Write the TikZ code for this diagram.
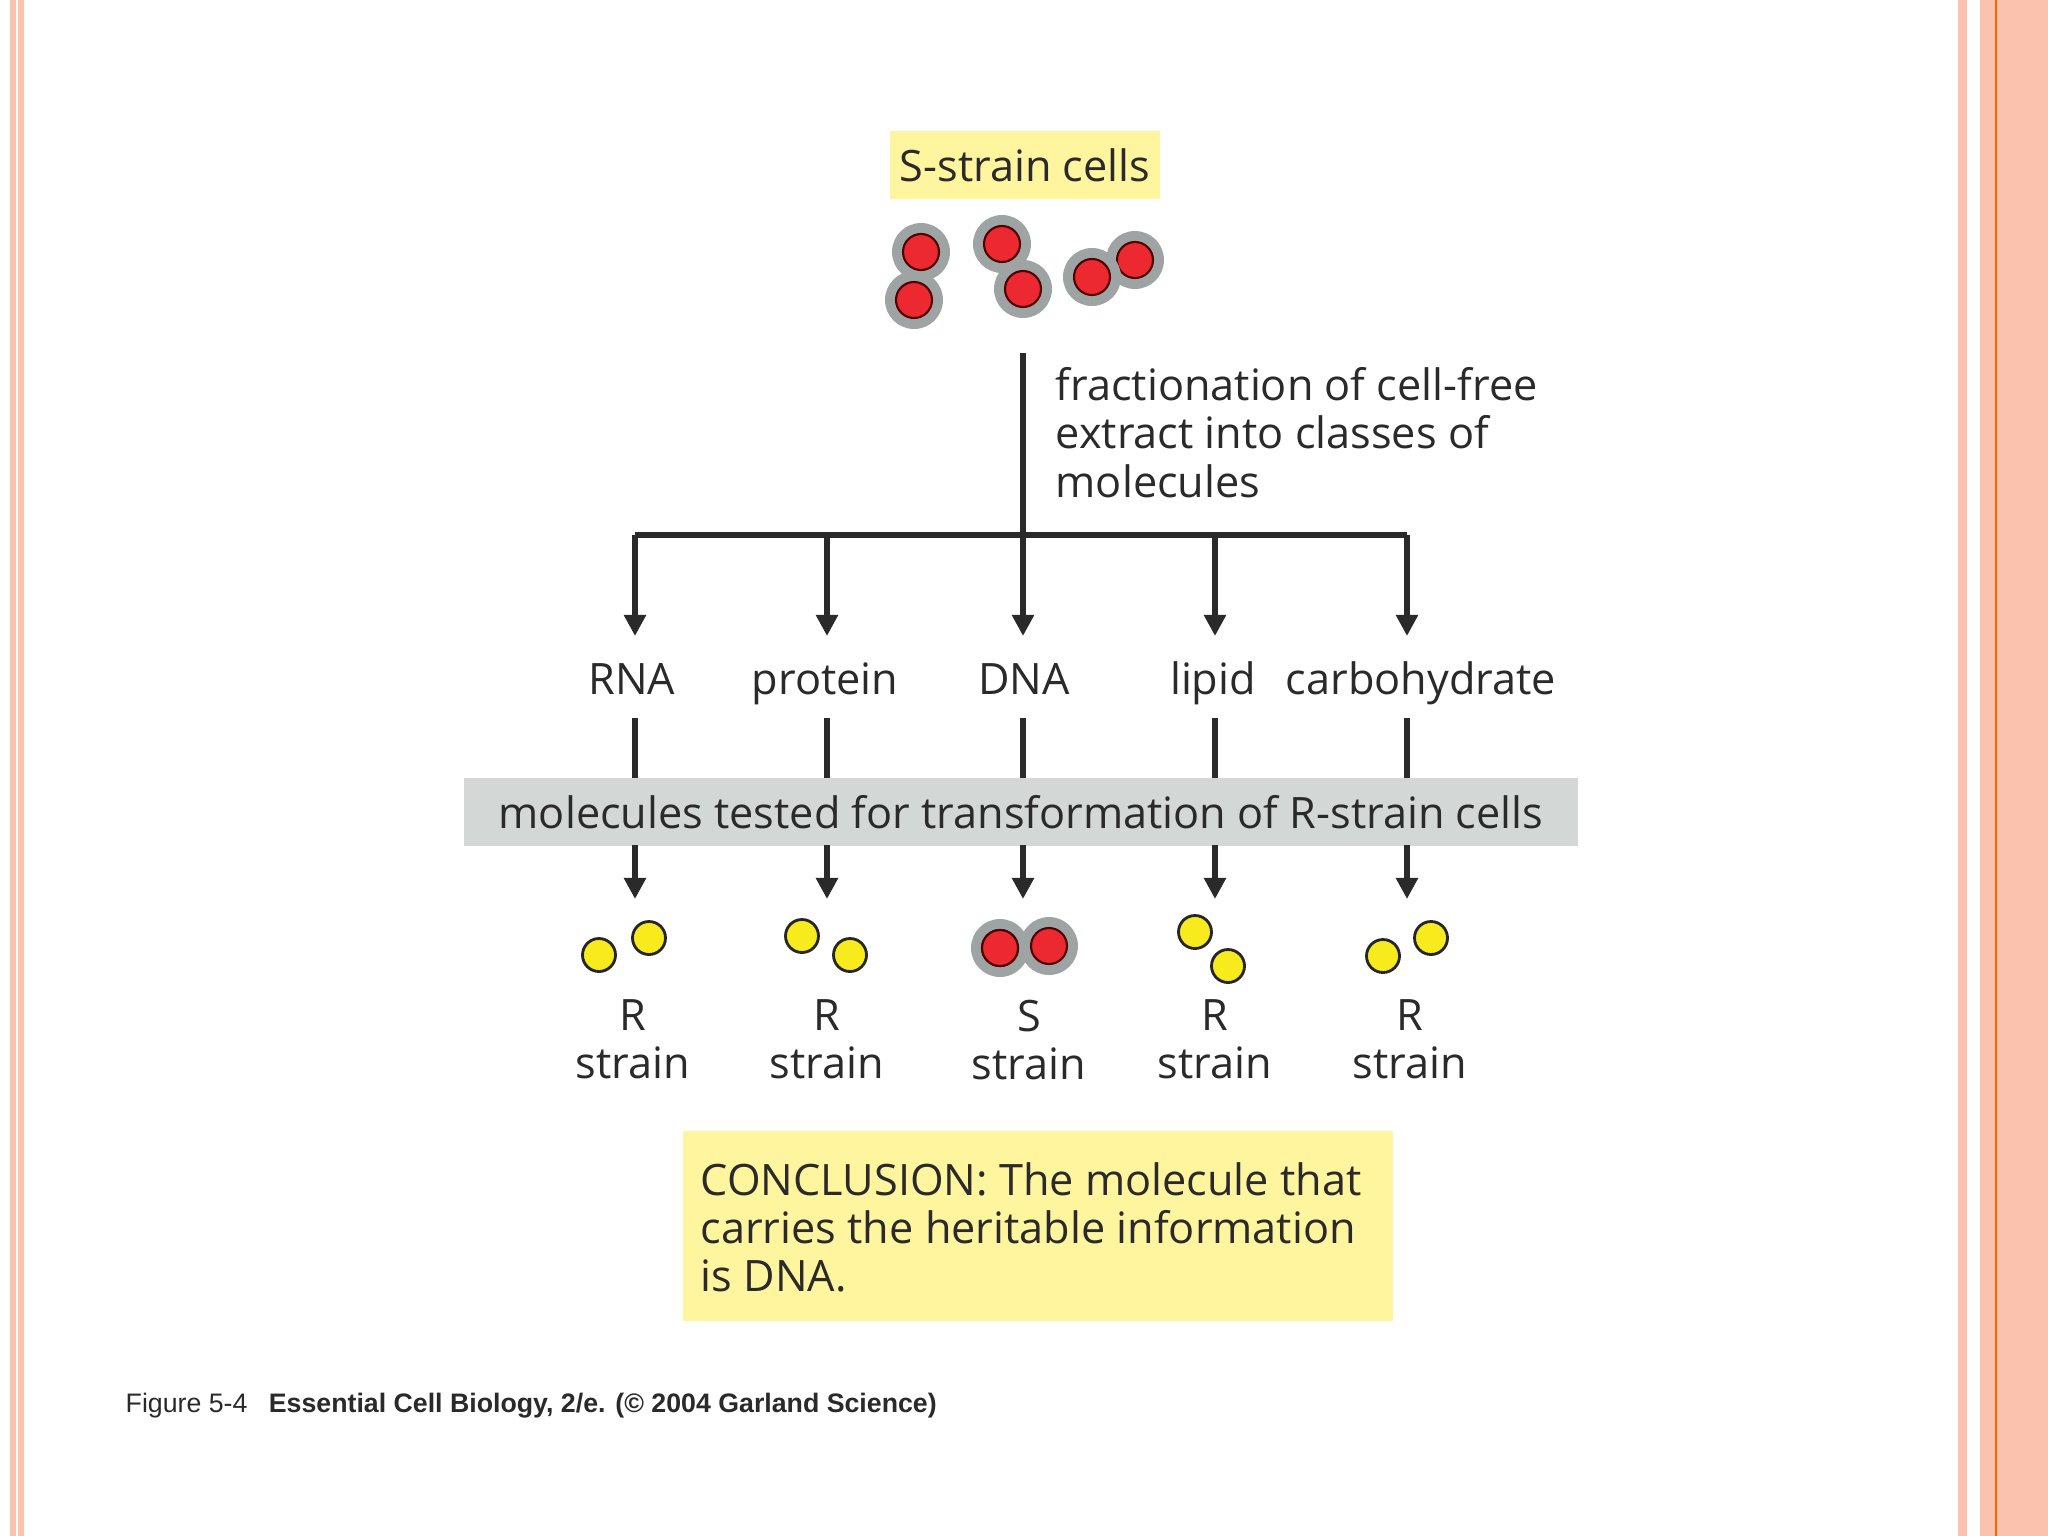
\documentclass[tikz,border=0pt]{standalone}
\usepackage{fontspec}
\setmainfont{Open Sans}
\newfontfamily\capfont{Liberation Sans}
\usetikzlibrary{arrows.meta}
\definecolor{salmon}{HTML}{FBC3AE}
\definecolor{boxyellow}{HTML}{FFF59E}
\definecolor{boxgray}{HTML}{D3D8D6}
\definecolor{cellgray}{HTML}{9EA4A3}
\definecolor{cellred}{HTML}{EC2830}
\definecolor{cellyellow}{HTML}{F7EB1E}
\definecolor{txt}{HTML}{2A2A2A}
\tikzset{
  lbl/.style={font=\fontsize{12.3}{13.7}\selectfont, text=txt, inner sep=0pt},
  conn/.style={line width=1.6pt, draw=txt},
  arr/.style={conn, -{Triangle[length=6pt,width=6pt]}},
}
\newcommand{\scell}[2]{\fill[cellgray] (#1,#2) circle (29); \filldraw[fill=cellred, draw=black!70!red, line width=0.6pt] (#1,#2) circle (18);}
\newcommand{\rcell}[2]{\filldraw[fill=cellyellow, draw=black!85, line width=0.8pt] (#1,#2) circle (16.5);}
\begin{document}
\begin{tikzpicture}[x=0.01cm,y=-0.01cm]
\useasboundingbox (0,0) rectangle (2048,1536);
\fill[white] (0,0) rectangle (2048,1536);
% borders
\fill[salmon] (10,0) rectangle (16,1536);
\fill[salmon] (18,0) rectangle (24,1536);
\fill[salmon] (1958,0) rectangle (1967,1536);
\fill[salmon] (1980,0) rectangle (2048,1536);
\draw[orange!80!red, line width=0.8pt] (1996,0) -- (1996,1536);
% top
\node[fill=boxyellow, minimum width=2.69cm, minimum height=0.68cm, lbl] (top) at (1025,165) {S-strain cells};
\scell{921}{252}\scell{914}{300}
\scell{1002}{244}\scell{1023}{289}
\scell{1135}{260}\scell{1092}{277}
\coordinate (stem) at (1023,353);
\coordinate (bar) at (1023,535);
\coordinate (barL) at (635,535);
\coordinate (barR) at (1407,535);
\draw[conn] (stem) -- (bar);
\draw[conn] (barL) -- (barR);
\node[lbl, anchor=north west, align=left] (frac) at (1055,367) {fractionation of cell-free\\extract into classes of\\molecules};
% gray box
\node[fill=boxgray, minimum width=11.13cm, minimum height=0.67cm, lbl] (test) at (1021,812) {molecules tested for transformation of R-strain cells};
\foreach \x/\lx/\name/\t in {635/632/rna/RNA, 827/825/pro/protein, 1023/1024/dna/DNA, 1215/1213/lip/lipid, 1407/1421/car/carbohydrate}{
  \coordinate (a\name) at (\x,535);
  \node[lbl] (\name) at (\lx,685) {\strut\t};
  \draw[arr] (a\name) -- (\x,636);
  \draw[conn] (\x,718) -- (\x,778);
  \coordinate (b\name) at (\x,845);
  \draw[arr] (b\name) -- (\x,899);
}
% results
\rcell{599}{955}\rcell{649}{938}
\rcell{802}{936}\rcell{850}{955}
\scell{1000}{948}\scell{1049}{946}
\filldraw[fill=cellred, draw=black!70!red, line width=0.6pt] (1000,948) circle (18);
\rcell{1195}{932}\rcell{1228}{966}
\rcell{1383}{956}\rcell{1431}{938}
\foreach \x/\s/\n in {633/R/1, 827/R/2, 1029/S/3, 1215/R/4, 1410/R/5}{
  \node[lbl, align=center, anchor=north] (res\n) at (\x,999) {\s\\strain};
}
% conclusion
\node[fill=boxyellow, minimum width=7.10cm, minimum height=1.90cm, anchor=north west] (concl) at (682,1130) {};
\node[lbl, anchor=north west, align=left] (ctext) at (700,1162) {CONCLUSION: The molecule that\\carries the heritable information\\is DNA.};
\node[anchor=west, inner sep=0pt, text=txt, font=\capfont\fontsize{7.6}{9}\selectfont] (cap) at (125,1406) {Figure 5-4\hspace{0.8em}\textbf{Essential Cell Biology, 2/e. (© 2004 Garland Science)}};
\end{tikzpicture}
\end{document}
